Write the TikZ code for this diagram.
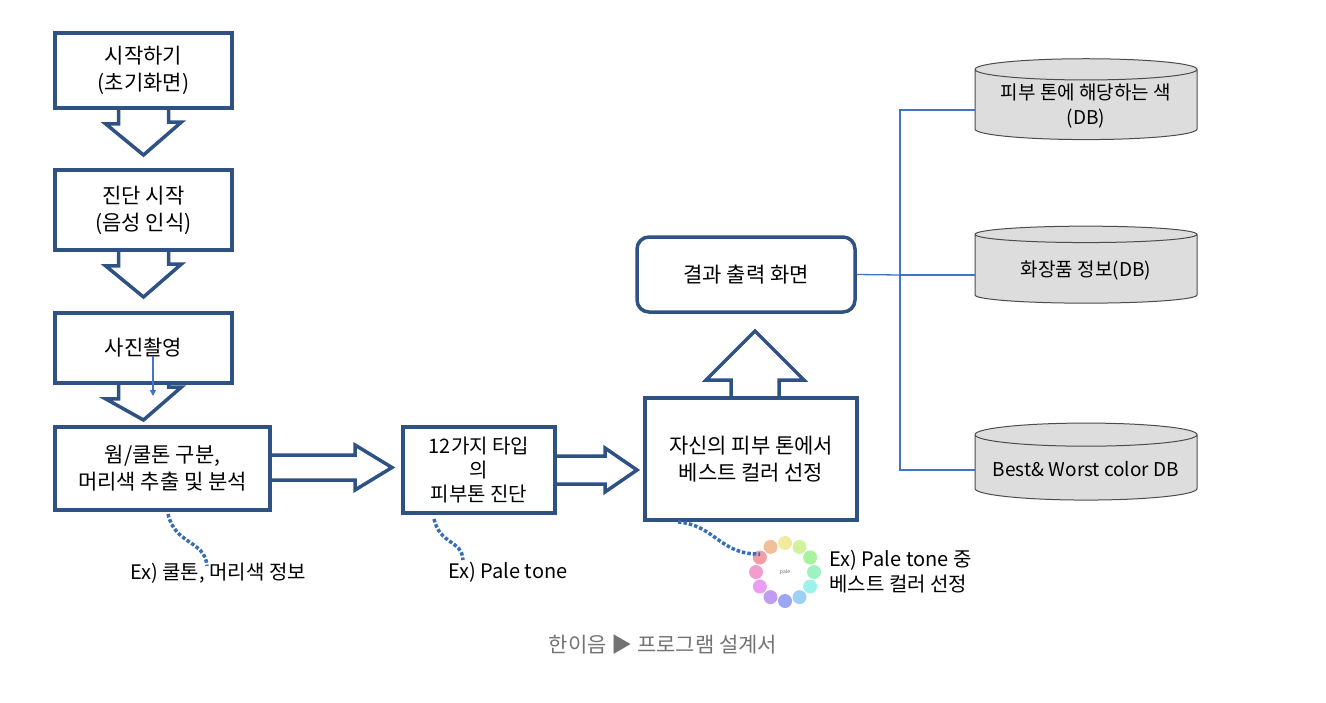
\documentclass[tikz,border=0pt]{standalone}
\usepackage{fontspec}
\setmainfont{Noto Sans CJK KR}
\usetikzlibrary{shapes.geometric,arrows.meta}
\definecolor{boxblue}{RGB}{47,82,133}
\definecolor{treeblue}{RGB}{68,114,196}
\definecolor{dotblue}{RGB}{58,110,180}
\definecolor{cylgray}{RGB}{221,221,221}
\tikzset{
  stepbox/.style={draw=boxblue,line width=3.5pt,fill=white,align=center,
    font=\fontsize{21}{27}\selectfont,inner sep=0pt},
  blockarrow/.style={draw=boxblue,line width=3.5pt,line join=miter},
  dbbox/.style={cylinder,shape border rotate=90,aspect=0.12,draw=black!70,
    line width=1pt,fill=cylgray,align=center,font=\fontsize{19}{25}\selectfont,
    minimum width=222pt,minimum height=77pt},
  treeline/.style={draw=treeblue,line width=1.3pt},
  noteline/.style={draw=dotblue,line width=3.5pt,dotted},
  note/.style={font=\fontsize{20}{25}\selectfont,align=left}
}
\begin{document}
\begin{tikzpicture}[x=1pt,y=-1pt]
\useasboundingbox (0,0) rectangle (1326,702);
% left column
\node[stepbox,minimum width=177pt,minimum height=75pt] (start) at (143.5,70.5) {시작하기\\(초기화면)};
\node[stepbox,minimum width=177pt,minimum height=80pt] (diag) at (143.5,210) {진단 시작\\(음성 인식)};
\node[stepbox,minimum width=177pt,minimum height=70pt] (photo) at (143.5,348) {사진촬영};
\node[stepbox,minimum width=215pt,minimum height=83pt] (tone) at (162.5,468.5) {웜/쿨톤 구분,\\머리색 추출 및 분석};
\node[stepbox,minimum width=152pt,minimum height=86pt,font=\fontsize{20}{24}\selectfont] (type) at (479,470) {12가지 타입\\의\\피부톤 진단};
\node[stepbox,minimum width=212pt,minimum height=122pt] (best) at (751,459) {자신의 피부 톤에서\\베스트 컬러 선정};
\node[stepbox,rounded corners=12pt,minimum width=218pt,minimum height=75pt] (result) at (746,274.5) {결과 출력 화면};
% block arrows
\foreach \b/\tip in {start/155,diag/297,photo/420}{
  \draw[blockarrow] ([xshift=-25pt]\b.south) -- ++(0,14) -- ++(-13,0) -- (143.5,\tip) -- ++(38,-33) -- ++(-13,0) -- ([xshift=25pt]\b.south);
}
\draw[blockarrow] (tone.east |- 0,455) -- (355,455) -- (355,445) -- (392,467.5) -- (355,490) -- (355,480) -- (tone.east |- 0,480);
\draw[blockarrow] (type.east |- 0,456) -- (605,456) -- (605,448) -- (637,470) -- (605,492) -- (605,484) -- (type.east |- 0,484);
\draw[blockarrow] (731,398) -- (731,380) -- (706,380) -- (755,331) -- (804,380) -- (779,380) -- (779,398);
\draw[treeblue,line width=1.3pt,-{Triangle[length=6pt,width=6pt]}] (153,356) -- (153,396);
% databases
\node[dbbox] (skin) at (1086,106) {피부 톤에 해당하는 색\\(DB)};
\node[dbbox] (cosm) at (1086,270) {화장품 정보(DB)};
\node[dbbox] (bw) at (1086,469) {Best\& Worst color DB};
\coordinate (hub) at (900,275);
\draw[treeline] (result.east) -- (hub);
\draw[treeline] (skin.west |- 0,110) -- (900,110) -- (900,470) -- (bw.west |- 0,470);
\draw[treeline] (hub) -- (cosm.west |- hub);
% notes
\node[note] (ex1) at (218,573) {Ex) 쿨톤, 머리색 정보};
\node[note] (ex2) at (508,572) {Ex) Pale tone};
\node[font=\tiny,text=black!60] (wheel) at (785,572) {pale};
\foreach \i in {0,...,11}{
  \pgfmathsetmacro{\h}{mod(0.15+\i/12,1)}
  \definecolor{dotc}{hsb}{\h,0.35,0.95}
  \fill[dotc] (wheel) ++(-90+\i*30:29) circle (7);
}
\node[note,anchor=west] (ex3) at (826,572) {Ex) Pale tone 중\\베스트 컬러 선정};
\draw[noteline] (168,514) .. controls (175,545) and (205,540) .. (207,566);
\draw[noteline] (434,519) .. controls (440,545) and (462,540) .. (463,560);
\draw[noteline] (678,522) .. controls (715,525) and (720,555) .. (760,554);
\node[text=black!55,font=\fontsize{21}{25}\selectfont] (cap) at (663,645) {한이음 ▶ 프로그램 설계서};
\end{tikzpicture}
\end{document}
